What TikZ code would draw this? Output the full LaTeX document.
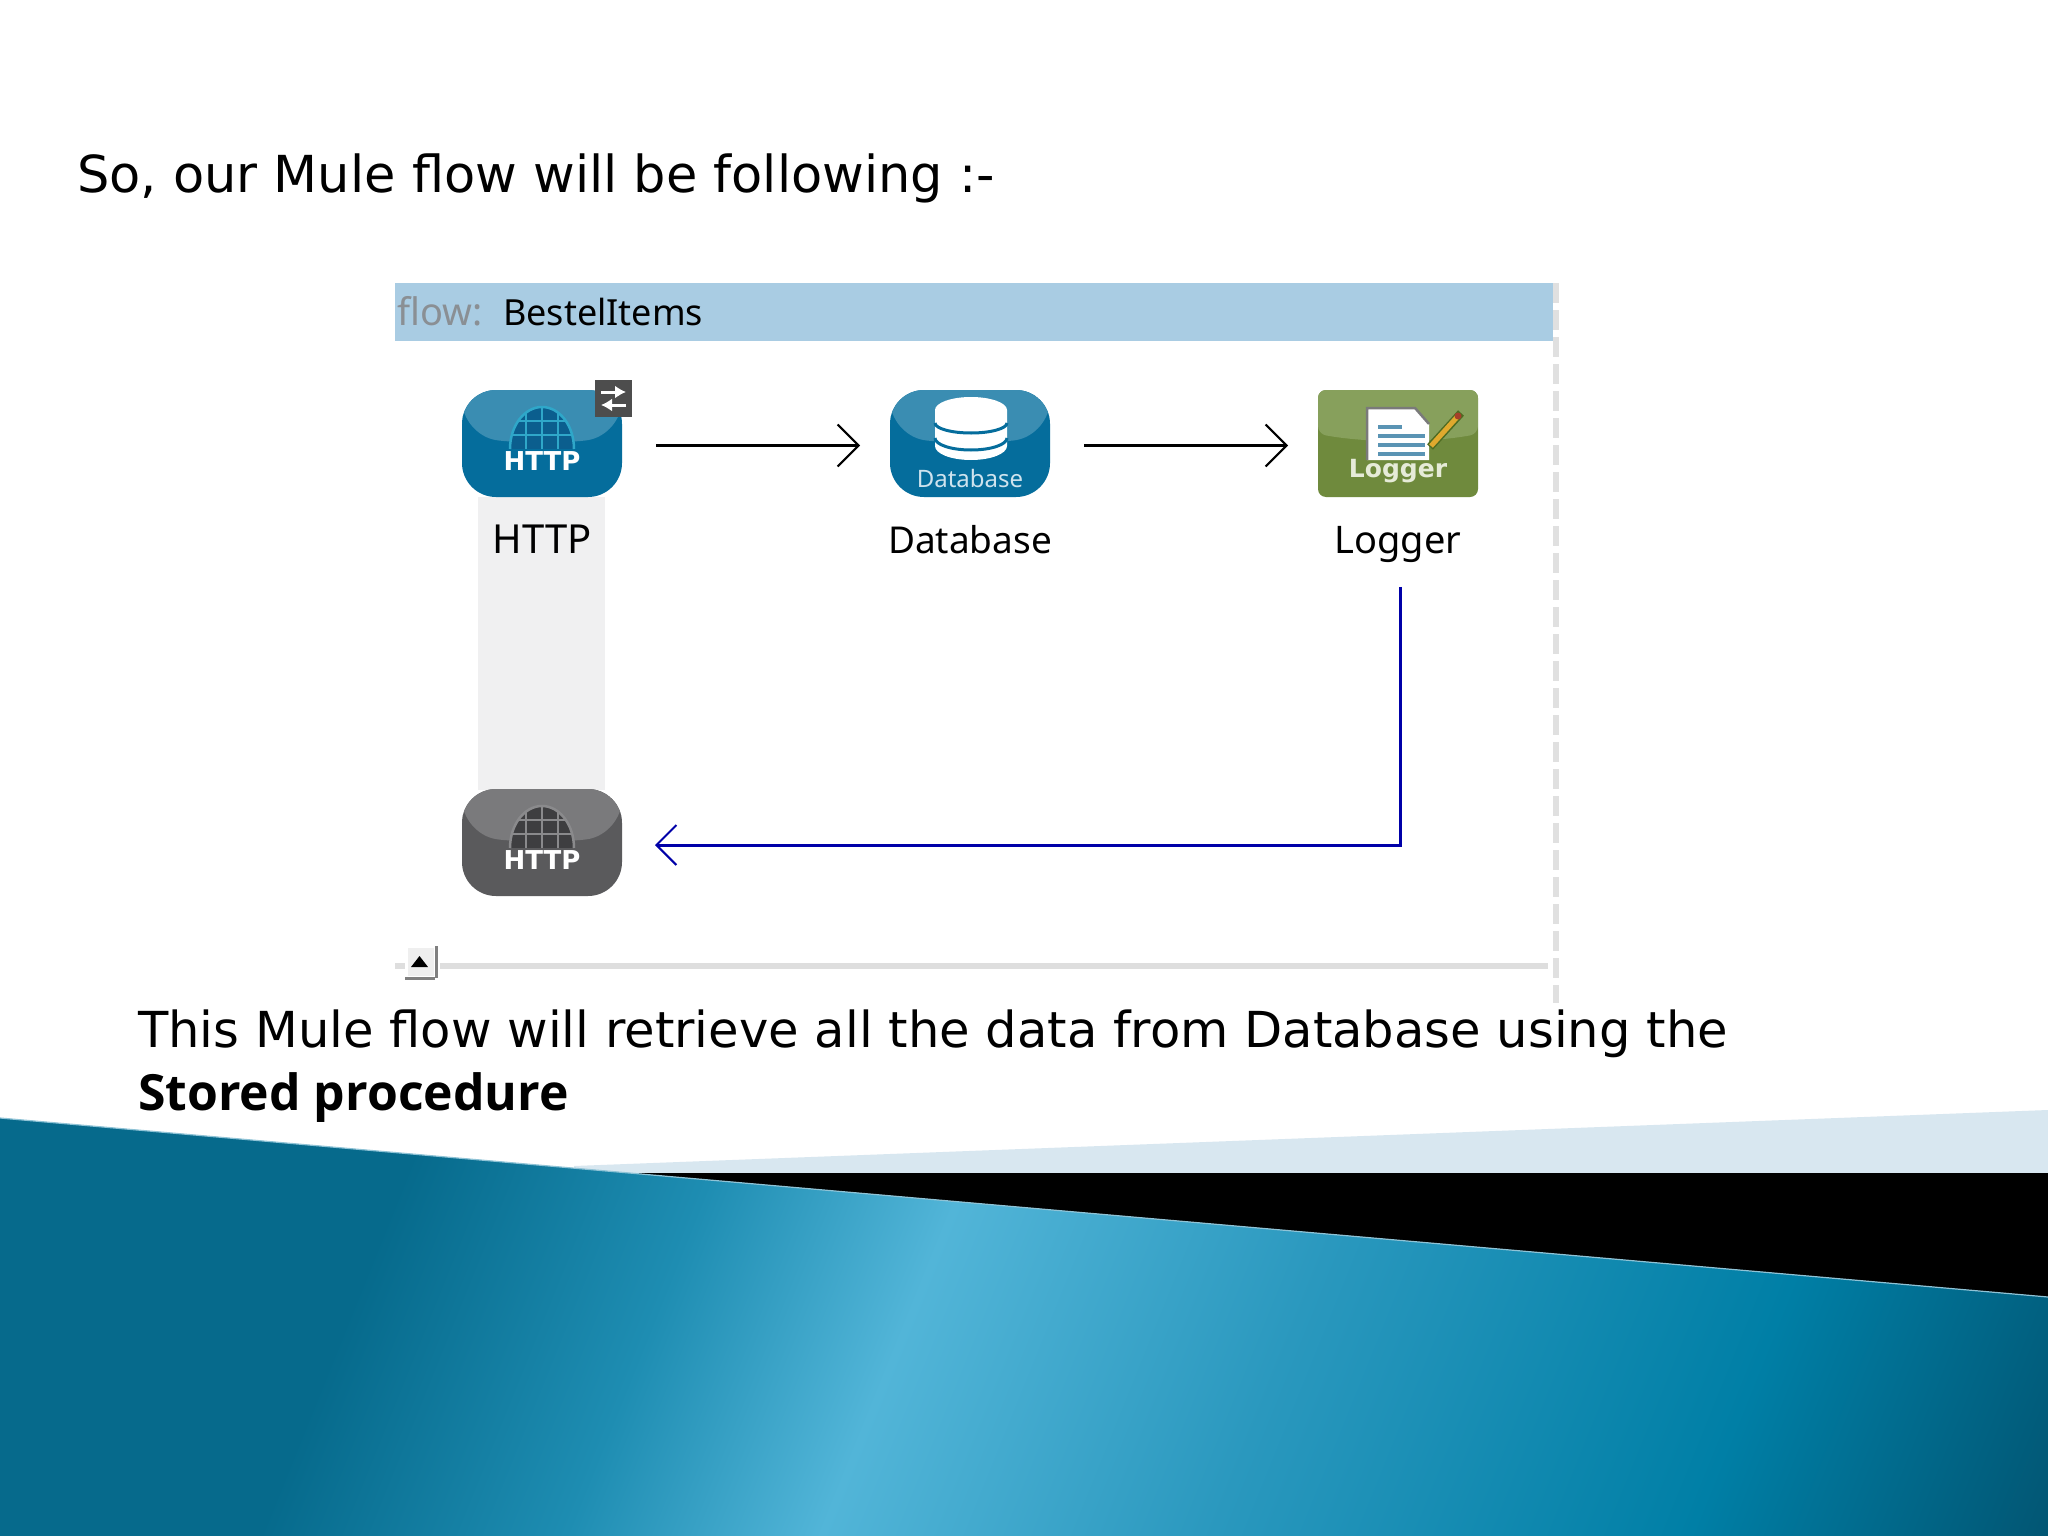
\documentclass[tikz,border=0pt]{standalone}
\usepackage{fontspec}
\setmainfont{DejaVu Sans}
\newfontfamily\uifont{Noto Sans}
\newfontfamily\boldface{Open Sans}
\usetikzlibrary{arrows.meta}
\definecolor{bandblue}{HTML}{A9CCE3}
\definecolor{httpup}{HTML}{3A8DB2}
\definecolor{httplow}{HTML}{056D9C}
\definecolor{greyup}{HTML}{7A7A7C}
\definecolor{greylow}{HTML}{5A5A5C}
\definecolor{logup}{HTML}{87A05C}
\definecolor{loglow}{HTML}{6F8A3D}
\definecolor{colgrey}{HTML}{F0F0F1}
\definecolor{flowblue}{HTML}{0000A8}
\definecolor{dashgrey}{HTML}{E0E0E0}
\definecolor{paleband}{HTML}{D8E7F0}
\definecolor{edgeblue}{HTML}{8FC3D6}
\definecolor{keygrey}{HTML}{8A8F94}
\definecolor{globeA}{HTML}{0B5E8E}
\definecolor{globeB}{HTML}{2FA7C9}
\definecolor{globeC}{HTML}{3E3E40}
\definecolor{globeD}{HTML}{8A8A8C}
\definecolor{badgegrey}{HTML}{4D4D4D}
\definecolor{dbtextc}{HTML}{CFE3EE}
\definecolor{docgrey}{HTML}{7A7A7A}
\definecolor{docline}{HTML}{5A94B4}
\definecolor{pencilout}{HTML}{4E6B22}
\definecolor{pencilin}{HTML}{E0A92E}
\definecolor{penciltip}{HTML}{A5402A}
\definecolor{logtextc}{HTML}{E6EBD8}
\definecolor{scrollc}{HTML}{DEDEDE}
\definecolor{scrollb}{HTML}{EFEFEF}
\definecolor{scrolld}{HTML}{808080}
\definecolor{gA}{HTML}{066A8C}
\definecolor{gB}{HTML}{1E8DB2}
\definecolor{gC}{HTML}{52B5D8}
\definecolor{gD}{HTML}{2A98BE}
\definecolor{gE}{HTML}{007FA6}
\definecolor{gF}{HTML}{02506C}
\pgfdeclarehorizontalshading{bandshade}{100bp}{
 color(0bp)=(gA); color(30bp)=(gA); color(39bp)=(gB); color(46.5bp)=(gC);
 color(58bp)=(gD); color(72bp)=(gE); color(84bp)=(gF); color(100bp)=(gF)}
\tikzset{
 x=1pt,y=-1pt,
 iconbox/.style n args={3}{minimum width=160pt,minimum height=107pt,inner sep=0pt,outer sep=0pt,
   rounded corners=#3,fill=#2,
   path picture={\fill[#1] (path picture bounding box.north west) -- ([yshift=-44pt]path picture bounding box.north west)
     .. controls +(50pt,-9pt) and +(-50pt,-9pt) .. ([yshift=-44pt]path picture bounding box.north east)
     -- (path picture bounding box.north east) -- cycle;}},
 flowlabel/.style={inner sep=0pt,anchor=base,text=black},
 slidetext/.style={inner sep=0pt,anchor=base west,text=black},
 blackflow/.style={draw=black,line width=3pt,-{Straight Barb[length=21pt,width=42pt,line width=2pt]}},
 blueflow/.style={draw=flowblue,line width=3pt,-{Straight Barb[length=20pt,width=40pt,line width=2pt]}},
 icontext/.style={font=\bfseries\fontsize{26}{30}\selectfont,text=white,inner sep=0pt,anchor=base},
}
\newcommand{\globegrid}[4]{% x, y, dark, line
 \begin{scope}
 \clip (#1-32,#2) arc[start angle=180,end angle=360,x radius=32,y radius=42] -- cycle;
 \fill[#3] (#1-32,#2-44) rectangle (#1+32,#2);
 \draw[#4,line width=2pt] (#1-16,#2-44) -- (#1-16,#2) (#1,#2-44) -- (#1,#2) (#1+16,#2-44) -- (#1+16,#2)
   (#1-32,#2-28) -- (#1+32,#2-28) (#1-32,#2-14) -- (#1+32,#2-14);
 \end{scope}
 \draw[#4,line width=2.5pt] (#1-32,#2) arc[start angle=180,end angle=360,x radius=32,y radius=42];
}
\begin{document}
\begin{tikzpicture}
\useasboundingbox (0,0) rectangle (2048,1536);
\fill[white] (0,0) rectangle (2048,1536);
% slide decoration
\fill[paleband] (574,1166) -- (2048,1110) -- (2048,1173) -- (574,1173) -- cycle;
\fill[black] (600,1173) rectangle (2048,1300);
\shade[shading=bandshade,shading angle=-22] (0,1118) -- (2048,1297) -- (2048,1536) -- (0,1536) -- cycle;
\draw[edgeblue,line width=1.2pt] (0,1118) -- (2048,1297);
% slide text
\node[slidetext,font=\fontsize{51}{60}\selectfont] (title) at (77,192) {So, our Mule flow will be following :-};
\node[slidetext,font=\fontsize{49.6}{60}\selectfont] (line1) at (138,1047) {This Mule flow will retrieve all the data from Database using the};
\node[slidetext,font=\boldface\bfseries\fontsize{49.9}{60}\selectfont] (line2) at (138,1110) {Stored procedure};
% flow frame
\fill[bandblue] (395,283) rectangle (1553,341);
\node[inner sep=0pt,anchor=base west,font=\uifont\fontsize{38}{40}\selectfont,text=keygrey] (flowkey) at (397,325) {flow:};
\node[inner sep=0pt,anchor=base west,font=\uifont\fontsize{36}{40}\selectfont,text=black] (flowname) at (503,325) {BestelItems};
\draw[dashgrey,line width=6pt,dash pattern=on 20pt off 7pt] (1556,283) -- (1556,1003);
\fill[colgrey] (478,497) rectangle (605,790);
% icons
\node[iconbox={httpup}{httplow}{34pt}] (httpin) at (542,443.5) {};
\node[iconbox={httpup}{httplow}{34pt}] (db) at (970,443.5) {};
\node[iconbox={logup}{loglow}{8pt}] (logger) at (1398,443.5) {};
\node[iconbox={greyup}{greylow}{34pt}] (httpout) at (542,842.5) {};
% http globe
\globegrid{542}{449}{globeA}{globeB}
\node[icontext] (httptext) at (542,470) {HTTP};
\globegrid{542}{848}{globeC}{globeD}
\node[icontext] (httptext2) at (542,869) {HTTP};
% badge
\node[fill=badgegrey,minimum size=37pt,inner sep=0pt] (badge) at (613.5,398.5) {};
\draw[white,line width=3pt,-{Latex[length=11pt,width=13pt]}] (601,392) -- (626,392);
\draw[white,line width=3pt,-{Latex[length=11pt,width=13pt]}] (626,405) -- (601,405);
% database cylinder
\fill[white] (935,410) -- (935,446) arc[start angle=180,end angle=0,x radius=36,y radius=14] -- (1007,410) arc[start angle=0,end angle=-180,x radius=36,y radius=13] -- cycle;
\draw[httplow,line width=3pt] (935,423) arc[start angle=180,end angle=0,x radius=36,y radius=10];
\draw[httplow,line width=3pt] (935,438) arc[start angle=180,end angle=0,x radius=36,y radius=12];
\node[inner sep=0pt,anchor=base,font=\uifont\fontsize{24}{28}\selectfont,text=dbtextc] (dbtext) at (970,487) {Database};
% logger doc
\fill[white] (1367,408) -- (1415,408) -- (1429,424) -- (1429,460) -- (1367,460) -- cycle;
\draw[docgrey,line width=2.5pt] (1367,460) -- (1367,408) -- (1415,408) -- (1429,424);
\draw[docline,line width=4pt] (1378,427) -- (1402,427) (1378,436) -- (1425,436) (1378,445) -- (1425,445) (1378,454) -- (1425,454);
\draw[pencilout,line width=8pt] (1430,447) -- (1461,413);
\draw[pencilin,line width=5pt] (1431,446) -- (1458,416);
\fill[penciltip] (1458,416) circle (3.5);
\node[icontext,font=\bfseries\fontsize{25}{30}\selectfont,text=logtextc] (logtext) at (1398,477) {Logger};
% labels
\node[flowlabel,font=\uifont\fontsize{40}{44}\selectfont] (httplabel) at (542,553.5) {HTTP};
\node[flowlabel,font=\uifont\fontsize{37}{44}\selectfont] (dblabel) at (970,553.5) {Database};
\node[flowlabel,font=\uifont\fontsize{38}{44}\selectfont] (loglabel) at (1398,553.5) {Logger};
% connectors
\draw[blackflow] ([xshift=34pt,yshift=-2pt]httpin.east) -- ([xshift=-30pt,yshift=-2pt]db.west);
\draw[blackflow] ([xshift=34pt,yshift=-2pt]db.east) -- ([xshift=-30pt,yshift=-2pt]logger.west);
\draw[blueflow] ([xshift=2pt,yshift=-24pt]loglabel.south) |- ([xshift=33pt,yshift=-2.5pt]httpout.east);
% scroll bar
\fill[scrollc] (440,963) rectangle (1548,969);
\fill[scrollc] (395,963) rectangle (405,969);
\fill[scrollb] (408,948) rectangle (434,976);
\fill[black] (411,967) -- (419.5,956) -- (428,967) -- cycle;
\draw[scrolld,line width=3pt] (436,946) -- (436,978);
\draw[scrolld,line width=3pt] (405,978) -- (435,978);
\end{tikzpicture}
\end{document}
